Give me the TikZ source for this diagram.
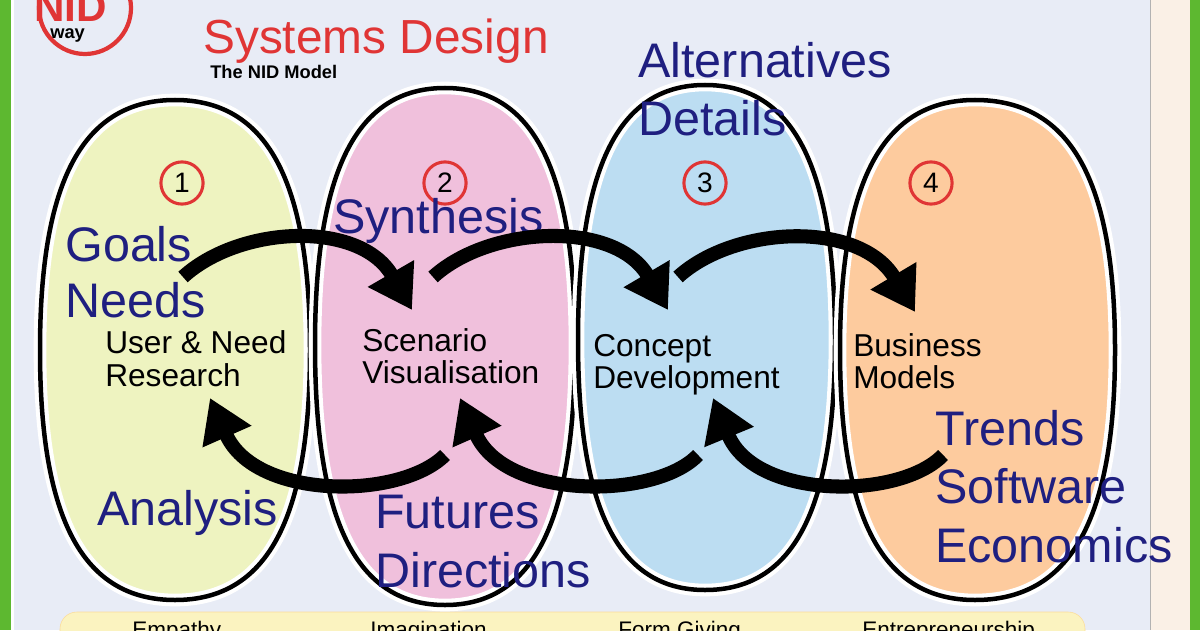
\documentclass[tikz,border=0pt]{standalone}
\usepackage{fontspec}
\setmainfont{Liberation Sans}
\usetikzlibrary{arrows.meta}
\definecolor{bgl}{HTML}{E8ECF6}
\definecolor{beige}{HTML}{FAF0E6}
\definecolor{grn}{HTML}{5DB830}
\definecolor{cy}{HTML}{EEF3C0}
\definecolor{cp}{HTML}{F0C0DC}
\definecolor{cb}{HTML}{BCDDF2}
\definecolor{co}{HTML}{FDCB9E}
\definecolor{tb}{HTML}{1F1F80}
\definecolor{rd}{HTML}{E03535}
\definecolor{band}{HTML}{FBF3C0}
\newcommand\myblob[7]{% cx t b l r m fill
 \pgfmathsetmacro\xa{#1+0.68*(#5-#1)}\pgfmathsetmacro\xb{#1-0.68*(#1-#4)}
 \pgfmathsetmacro\ya{#6-0.68*(#6-#2)}\pgfmathsetmacro\yb{#6+0.68*(#3-#6)}
 \path[fill=#7,draw=white,line width=9] (#1,#2) .. controls (\xa,#2) and (#5,\ya) .. (#5,#6) .. controls (#5,\yb) and (\xa,#3) .. (#1,#3) .. controls (\xb,#3) and (#4,\yb) .. (#4,#6) .. controls (#4,\ya) and (\xb,#2) .. cycle;
 \draw[line width=3.2] (#1,#2) .. controls (\xa,#2) and (#5,\ya) .. (#5,#6) .. controls (#5,\yb) and (\xa,#3) .. (#1,#3) .. controls (\xb,#3) and (#4,\yb) .. (#4,#6) .. controls (#4,\ya) and (\xb,#2) .. cycle;}
\tikzset{
 big/.style={anchor=base west,inner sep=0,text=tb,font=\fontsize{34.5}{38}\selectfont},
 lab/.style={anchor=base west,inner sep=0,font=\fontsize{22.5}{25}\selectfont},
 num/.style={circle,draw=rd,line width=2.2,minimum size=30pt,inner sep=0,font=\fontsize{20}{22}\selectfont},
 arr/.style={line width=10,-{Triangle[width=36pt,length=30pt]}},
 bot/.style={anchor=base west,inner sep=0,font=\fontsize{16}{18}\selectfont}
}
\begin{document}
\begin{tikzpicture}[x=0.025cm,y=-0.025cm]
\useasboundingbox (0,0) rectangle (1200,630);
\clip (0,0) rectangle (1200,630);
\fill[bgl] (0,0) rectangle (1200,630);
\fill[beige] (1150,0) rectangle (1190,630);
\draw[gray!60] (1150,0) -- (1150,630);
\fill[grn] (1190,0) rectangle (1200,630);
\fill[grn] (0,0) rectangle (11,630);
\fill[white] (11,0) rectangle (14,630);
% logo
\draw[rd,line width=3] (85,8) circle[radius=46];
\node[anchor=base west,inner sep=0,text=rd,font=\bfseries\fontsize{30}{32}\selectfont] (nid) at (34,22) {NID};
\node[anchor=base west,inner sep=0,font=\bfseries\fontsize{13}{14}\selectfont] (way) at (50,39) {way};
% titles
\node[anchor=base west,inner sep=0,text=rd,font=\fontsize{34}{38}\selectfont] (title) at (203,54) {Systems Design};
\node[anchor=base west,inner sep=0,font=\bfseries\fontsize{13}{14}\selectfont] (sub) at (210,79) {The NID Model};
% bottom band
\draw[band!80!orange,fill=band,rounded corners=12] (60,612) rectangle (1085,660);
\node[bot] (b1) at (132,637) {Empathy};
\node[bot] (b2) at (370,637) {Imagination};
\node[bot] (b3) at (618,637) {Form Giving};
\node[bot] (b4) at (862,637) {Entrepreneurship};
% blobs
\myblob{175}{100}{600}{40}{310}{350}{cy}
\myblob{445}{88}{605}{315}{575}{345}{cp}
\myblob{705}{85}{590}{578}{835}{340}{cb}
\myblob{975}{100}{600}{840}{1115}{350}{co}
% numbers
\node[num] (n1) at (182,183) {1};
\node[num] (n2) at (445,183) {2};
\node[num] (n3) at (705,183) {3};
\node[num] (n4) at (931,183) {4};
% labels
\node[big] (goals) at (65,261) {Goals};
\node[big] (needs) at (65,317) {Needs};
\node[lab] (u1) at (105,353) {User \& Need};
\node[lab] (u2) at (105,386) {Research};
\node[big] (syn) at (333,233) {Synthesis};
\node[lab] (s1) at (362,351) {Scenario};
\node[lab] (s2) at (362,383) {Visualisation};
\node[big] (alt) at (638,78) {Alternatives};
\node[big] (det) at (638,136) {Details};
\node[lab] (c1) at (593,356) {Concept};
\node[lab] (c2) at (593,388) {Development};
\node[lab] (m1) at (853,356) {Business};
\node[lab] (m2) at (853,388) {Models};
\node[big] (ana) at (97,525) {Analysis};
\node[big] (fut) at (375,528) {Futures};
\node[big] (dir) at (375,587) {Directions};
\node[big] (tr) at (935,445) {Trends};
\node[big] (sw) at (935,503) {Software};
\node[big] (ec) at (935,562) {Economics};
% arrows
\coordinate (a1s) at (183,277); \coordinate (a1e) at (412,310);
\coordinate (a2s) at (433,277); \coordinate (a2e) at (668,310);
\coordinate (a3s) at (678,277); \coordinate (a3e) at (915,312);
\draw[arr] (a1s) .. controls (240,225) and (360,220) .. (a1e);
\draw[arr] (a2s) .. controls (490,225) and (615,220) .. (a2e);
\draw[arr] (a3s) .. controls (735,225) and (860,220) .. (a3e);
\coordinate (b1s) at (445,455); \coordinate (b1e) at (210,398);
\coordinate (b2s) at (698,455); \coordinate (b2e) at (460,398);
\coordinate (b3s) at (943,455); \coordinate (b3e) at (713,398);
\draw[arr] (b1s) .. controls (400,500) and (255,500) .. (b1e);
\draw[arr] (b2s) .. controls (655,500) and (505,500) .. (b2e);
\draw[arr] (b3s) .. controls (900,500) and (755,500) .. (b3e);
\end{tikzpicture}
\end{document}
